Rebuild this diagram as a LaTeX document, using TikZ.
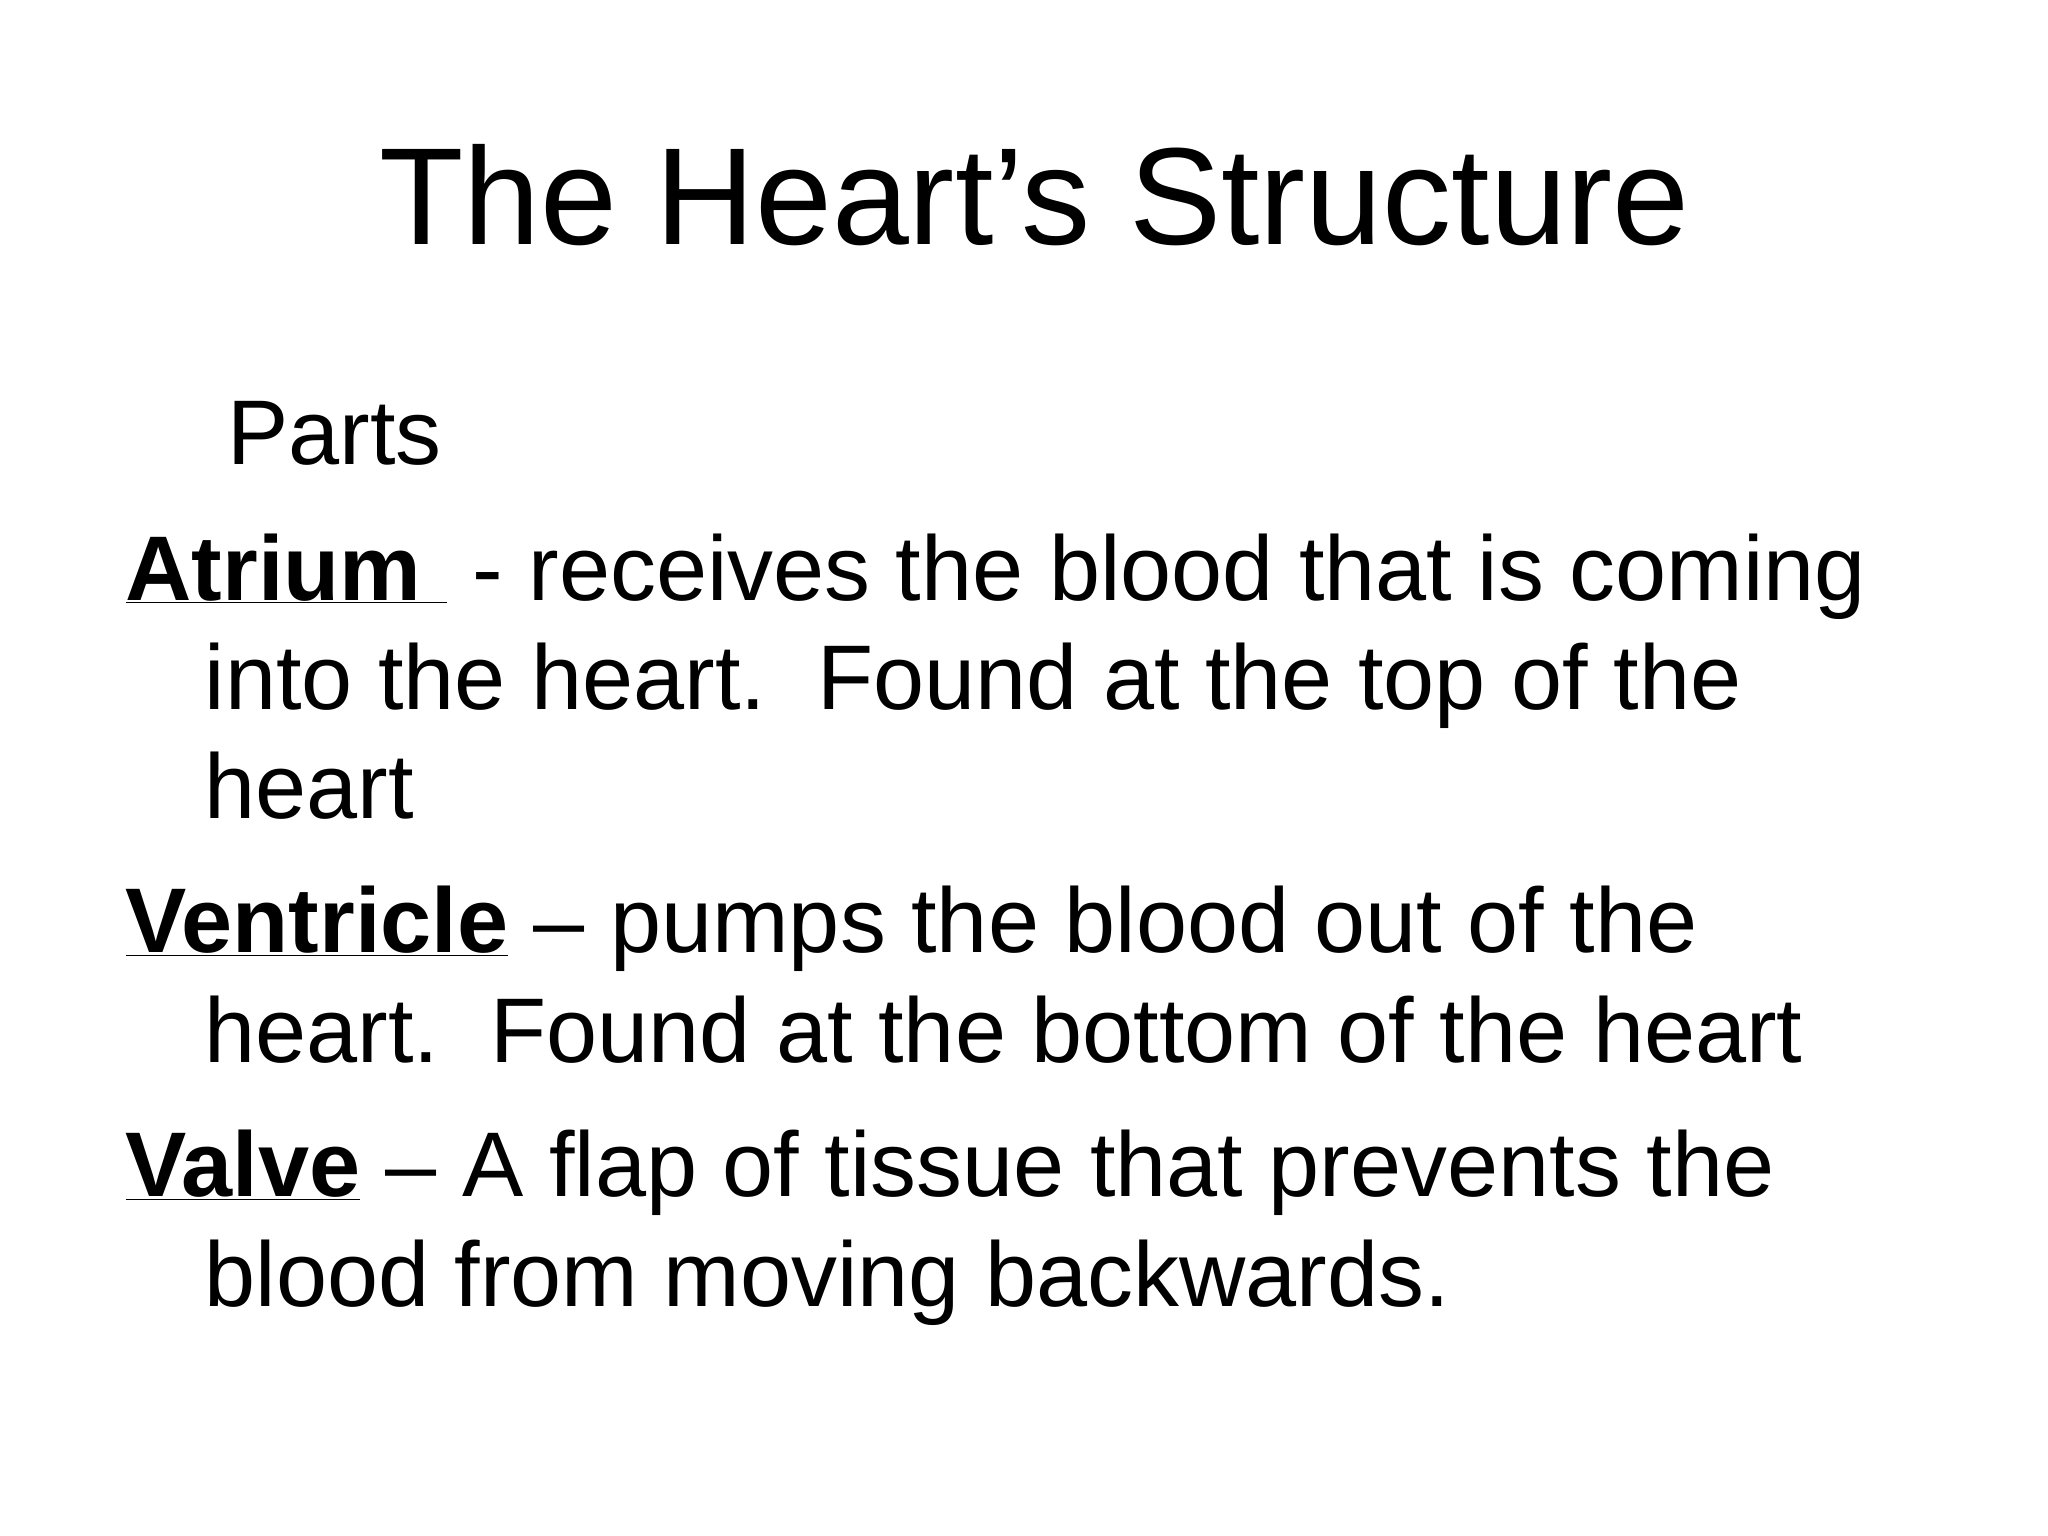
\documentclass[tikz,border=0pt]{standalone}
\usepackage{fontspec}
\setmainfont{Liberation Sans}
\begin{document}
\begin{tikzpicture}[x=0.05cm,y=-0.05cm,
  title/.style={anchor=base,inner sep=0pt,font=\fontsize{149}{170}\selectfont},
  body/.style={anchor=base west,inner sep=0pt,font=\fontsize{99}{118}\selectfont}]
\useasboundingbox[fill=white] (0,0) rectangle (1552,1164);
\node[title] (t) at (784,185) {The Heart’s Structure};
\node[body] (p) at (172,352) {Parts};
\node[body] (a1) at (95,455) {\underline{\textbf{Atrium}\ }\ - receives the blood that is coming};
\node[body] (a2) at (155,538) {into the heart.\ \ Found at the top of the};
\node[body] (a3) at (155,620) {heart};
\node[body] (v1) at (95,722) {\underline{\textbf{Ventricle}} – pumps the blood out of the};
\node[body] (v2) at (155,805) {heart.\ \ Found at the bottom of the heart};
\node[body] (w1) at (95,907) {\underline{\textbf{Valve}} – A flap of tissue that prevents the};
\node[body] (w2) at (155,990) {blood from moving backwards.};
\end{tikzpicture}
\end{document}
